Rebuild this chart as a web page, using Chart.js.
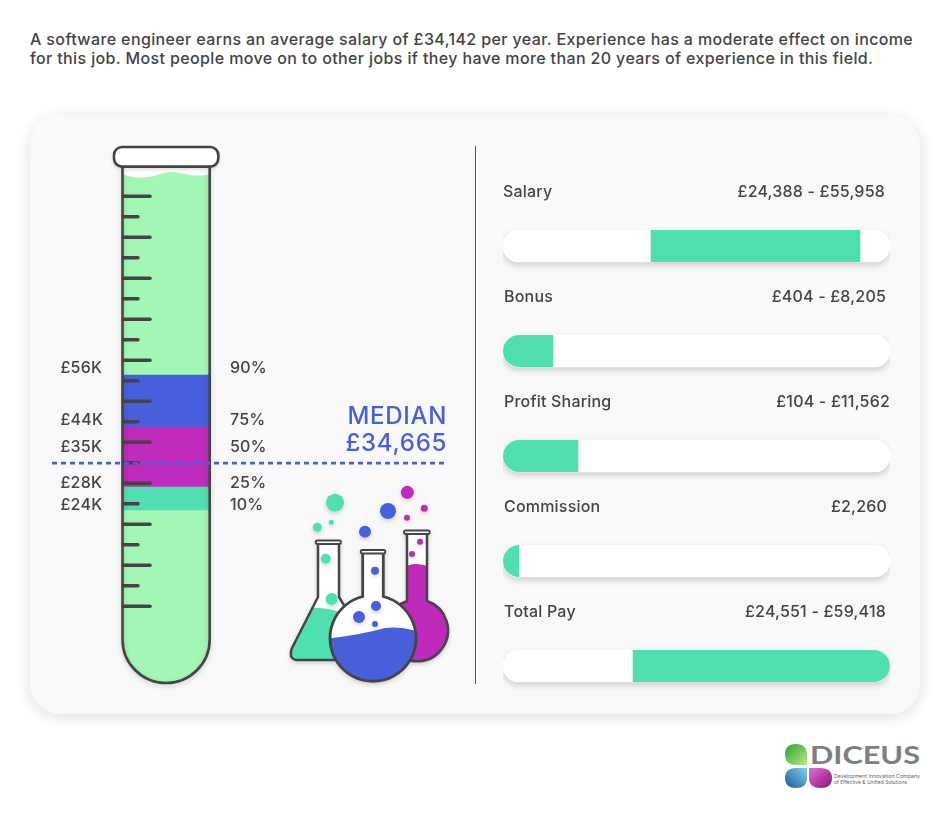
<!DOCTYPE html>
<html><head><meta charset="utf-8">
<script src="https://cdn.jsdelivr.net/npm/chart.js@4"></script>
<style>
html,body{margin:0;padding:0;background:#fff;width:950px;height:819px;overflow:hidden}
#intro{position:absolute;left:30px;top:29.5px;font:500 16px/19.6px Inter,sans-serif;letter-spacing:.375px;color:#444;white-space:nowrap}
#card{position:absolute;left:30px;top:115px;width:890px;height:599px;border-radius:30px;background:#f9f9f9;box-shadow:0 3px 16px rgba(0,0,0,.13)}
#rule{position:absolute;left:475px;top:146px;width:1px;height:538px;background:#555}
canvas{position:absolute;left:0;top:0}
svg{position:absolute;left:0;top:0}
</style></head><body>
<div id="intro">A software engineer earns an average salary of £34,142 per year. Experience has a moderate effect on income<br>for this job. Most people move on to other jobs if they have more than 20 years of experience in this field.</div>
<div id="card"></div><div id="rule"></div>
<svg width="950" height="819" viewBox="0 0 950 819" xmlns="http://www.w3.org/2000/svg">
<defs>
<filter id="sh" x="-30%" y="-30%" width="160%" height="160%"><feDropShadow dx="0" dy="2" stdDeviation="2" flood-color="#000" flood-opacity=".18"/></filter>
<clipPath id="cg"><path d="M318 542V597L292 648Q288 660 298 660H375V600H339V542Z"/></clipPath>
<clipPath id="cp"><path d="M407 532V601A31 31 0 1 0 427 601V532Z"/></clipPath>
<clipPath id="cb"><circle cx="372.7" cy="638.3" r="43"/></clipPath>
<linearGradient id="l1" x1="0" y1="0" x2="1" y2="1"><stop offset="0" stop-color="#2f9e2f"/><stop offset="1" stop-color="#b8e986"/></linearGradient>
<linearGradient id="l2" x1="1" y1="0" x2="0" y2="1"><stop offset="0" stop-color="#7fd0e6"/><stop offset="1" stop-color="#1c5a9c"/></linearGradient>
<linearGradient id="l3" x1="0" y1="0" x2="1" y2="1"><stop offset="0" stop-color="#e070e0"/><stop offset="1" stop-color="#8c1070"/></linearGradient>
</defs>
<g filter="url(#sh)">
<path d="M318 542V597L292 648Q288 660 298 660H375V600H339V542Z" fill="#fff"/>
<path d="M285 660V616Q305 602 340 612L380 640V665H285Z" fill="#50dfb0" clip-path="url(#cg)"/>
<path d="M318 542V597L292 648Q288 660 298 660H375M339 542V597L350 615" fill="none" stroke="#444" stroke-width="2.5" stroke-linejoin="round"/>
<rect x="315.7" y="540.5" width="25.3" height="3.5" rx="1.7" fill="#fff" stroke="#444" stroke-width="1.8"/>
<path d="M407 532V601A31 31 0 1 0 427 601V532Z" fill="#fff"/>
<path d="M400 569Q414 560 430 567L460 570V670H375V570Z" fill="#bf2bbd" clip-path="url(#cp)"/>
<path d="M407 532V601A31 31 0 1 0 427 601V532Z" fill="none" stroke="#444" stroke-width="2.5"/>
<rect x="404" y="530.5" width="25.7" height="3.5" rx="1.7" fill="#fff" stroke="#444" stroke-width="1.8"/>
<path d="M362.7 552V597A43 43 0 1 0 383.3 597V552Z" fill="#fff"/>
<path d="M325 639Q360 635 385 628Q400 626 420 632V690H325Z" fill="#4860dd" clip-path="url(#cb)"/>
<path d="M362.7 552V596.5A43 43 0 1 0 383.3 596.5V552" fill="none" stroke="#444" stroke-width="2.8"/>
<rect x="360.7" y="550" width="24.6" height="3.5" rx="1.7" fill="#fff" stroke="#444" stroke-width="1.8"/>
</g>
<g fill="#50dfb0" filter="url(#sh)"><circle cx="335" cy="502.7" r="9"/><circle cx="317.3" cy="527.3" r="4.5"/><circle cx="331.3" cy="522.3" r="2.5"/><circle cx="325.7" cy="558.7" r="5"/><circle cx="331.7" cy="599" r="6"/></g>
<g fill="#4860dd" filter="url(#sh)"><circle cx="388" cy="511" r="8"/><circle cx="365" cy="531.7" r="6"/><circle cx="375" cy="570.7" r="4"/><circle cx="376" cy="606" r="5"/><circle cx="359" cy="617" r="6"/><circle cx="375" cy="624" r="3"/></g>
<g fill="#bf2bbd" filter="url(#sh)"><circle cx="407.3" cy="492.3" r="6.5"/><circle cx="424.3" cy="508.3" r="3.5"/><circle cx="407" cy="517.7" r="3"/><circle cx="420" cy="541.7" r="3"/><circle cx="412" cy="554" r="3"/></g>
<path d="M807 765H796Q785 765 785 754.5Q785 744 796 744Q807 744 807 755Z" fill="url(#l1)"/>
<path d="M807 768V778Q807 788 796 788Q785 788 785 778Q785 768 796 768Z" fill="url(#l2)"/>
<path d="M809 768H820Q832 768 832 778Q832 788 820.5 788Q809 788 809 778Z" fill="url(#l3)"/>
<text x="810" y="764" font-family="Lato,sans-serif" font-size="25" font-weight="700" fill="#7d7f82" textLength="110" lengthAdjust="spacingAndGlyphs">DICEUS</text>
<text x="834" y="777.5" font-family="Inter,sans-serif" font-size="5.2" fill="#666" textLength="86" lengthAdjust="spacingAndGlyphs">Development Innovation Company</text>
<text x="834" y="784" font-family="Inter,sans-serif" font-size="5.2" fill="#666" textLength="73" lengthAdjust="spacingAndGlyphs">of Effective &amp; Unified Solutions</text>
</svg>
<canvas id="tube" width="950" height="819"></canvas>
<canvas id="bars" width="950" height="819"></canvas>
<script>
// ---------- data ----------
const tubeCategory = ["Salary"];
const bandNames = ["10–25%", "25–75%", "75–90%"];
const bandLow = [23.5, 29.1, 43.7];
const bandHigh = [29.1, 43.7, 56.4];
const salaryLabels = ["£24K", "£28K", "£35K", "£44K", "£56K"];
const percentLabels = ["10%", "25%", "50%", "75%", "90%"];
const medianValue = 34.665;
const medianLabels = ["MEDIAN", "£34,665"];
const payCategories = ["Salary", "Bonus", "Profit Sharing", "Commission", "Total Pay"];
const payRanges = ["£24,388 - £55,958", "£404 - £8,205", "£104 - £11,562", "£2,260", "£24,551 - £59,418"];
const payStart = [22.95, 0, 0, 0, 20.16];
const payEnd = [55.35, 7.75, 11.63, 2.48, 60];
const trackMax = 60;

// ---------- styles ----------
const INK = "#444", TEAL = "#50dfb0", MAG = "#bf2bbd", BLUE = "#4860dd", GREEN = "#a2f7b5";
const FONT = "500 16px Inter, sans-serif";
const labelLift = [3, 8.5, 15.8, 6, 9];

function tubePath(ctx, l, r, top, bottom) {
  const rad = (r - l) / 2;
  ctx.beginPath();
  ctx.moveTo(l, top);
  ctx.lineTo(l, bottom - rad);
  ctx.arc((l + r) / 2, bottom - rad, rad, Math.PI, 0, true);
  ctx.lineTo(r, top);
}

const tubePlugin = {
  id: "tubeDecor",
  beforeDatasetsDraw(chart) {
    const { ctx, chartArea: a } = chart;
    const l = a.left + .5, r = a.right - .3;
    ctx.save();
    tubePath(ctx, l, r, 167, 683);
    ctx.closePath();
    ctx.fillStyle = "#fff";
    ctx.fill();
    ctx.beginPath();
    ctx.moveTo(l, 174);
    ctx.bezierCurveTo(l + 12, 179, l + 24, 179, l + 36, 174.5);
    ctx.bezierCurveTo(l + 46, 171, l + 52, 171, l + 64, 174.5);
    ctx.bezierCurveTo(l + 72, 176, l + 80, 176, r, 174);
    ctx.lineTo(r, 639);
    ctx.arc((l + r) / 2, 639, (r - l) / 2, 0, Math.PI);
    ctx.closePath();
    ctx.fillStyle = GREEN;
    ctx.fill();
    ctx.restore();
  },
  afterDatasetsDraw(chart) {
    const { ctx, chartArea: a, scales: { y } } = chart;
    const l = a.left + .5, r = a.right - .3;
    ctx.save();
    // graduation marks come straight from the axis ticks
    ctx.strokeStyle = INK; ctx.lineWidth = 3.4; ctx.lineCap = "round";
    y.ticks.forEach(t => {
      const py = y.getPixelForValue(t.value);
      ctx.beginPath();
      ctx.moveTo(l + 1, py);
      ctx.lineTo(l + (t.value % 10 === 0 ? 27.5 : 15.5), py);
      ctx.stroke();
    });
    ctx.lineCap = "butt";
    ctx.shadowColor = "rgba(0,0,0,.2)"; ctx.shadowBlur = 5; ctx.shadowOffsetY = 2;
    ctx.lineWidth = 2.6;
    tubePath(ctx, l, r, 167, 683);
    ctx.stroke();
    ctx.beginPath();
    ctx.roundRect(114, 147, 104.3, 19.6, 8);
    ctx.fillStyle = "#fff"; ctx.fill();
    ctx.shadowColor = "transparent";
    ctx.stroke();
    // median line
    const my = y.getPixelForValue(medianValue);
    ctx.strokeStyle = BLUE; ctx.lineWidth = 2.6; ctx.setLineDash([5, 4]);
    ctx.beginPath(); ctx.moveTo(52, my - 1); ctx.lineTo(446, my - 1); ctx.stroke();
    ctx.setLineDash([]);
    // labels
    ctx.font = FONT; ctx.fillStyle = INK; ctx.textBaseline = "middle"; ctx.letterSpacing = "0.2px";
    salaryLabels.forEach((s, i) => {
      const v = parseFloat(s.slice(1));
      const py = y.getPixelForValue(v) - labelLift[i];
      ctx.textAlign = "left";
      ctx.fillText(s, 60.5, py);
      ctx.fillText(percentLabels[i], 230, py);
    });
    ctx.font = "500 24px Inter, sans-serif"; ctx.fillStyle = BLUE; ctx.textAlign = "right"; ctx.letterSpacing = "0.7px";
    ctx.fillText(medianLabels[0], 447, my - 47.3);
    ctx.fillText(medianLabels[1], 447, my - 20.3);
    ctx.restore();
  }
};

new Chart(document.getElementById("tube"), {
  type: "bar",
  plugins: [tubePlugin],
  data: {
    labels: tubeCategory,
    datasets: [TEAL, MAG, BLUE].map((c, i) => ({
      label: bandNames[i],
      data: [[bandLow[i], bandHigh[i]]],
      backgroundColor: c,
      grouped: false,
      barPercentage: 1,
      categoryPercentage: 1
    }))
  },
  options: {
    responsive: false, animation: false,
    layout: { padding: { left: 122, right: 740, top: 196.3, bottom: 212.7 } },
    plugins: { legend: { display: false }, tooltip: { enabled: false } },
    scales: {
      x: { display: false },
      y: { min: 0, max: 100, grid: { display: false, drawTicks: false }, border: { display: false },
           ticks: { display: false, stepSize: 5 } }
    }
  }
});

const barsPlugin = {
  id: "barsDecor",
  beforeDatasetDraw(chart, args) {
    const c = chart.ctx, { x, y } = chart.scales;
    c.save();
    if (args.index === 0) {
      c.shadowColor = "rgba(0,0,0,.18)"; c.shadowBlur = 6; c.shadowOffsetY = 3;
    } else {
      // the range fills sit inside the rounded tracks
      const left = x.getPixelForValue(0), w = x.getPixelForValue(trackMax) - left;
      c.beginPath();
      payCategories.forEach((_, i) => c.roundRect(left, y.getPixelForValue(i) - 16, w, 32, 16));
      c.clip();
    }
  },
  afterDatasetDraw(chart) {
    chart.ctx.restore();
  },
  afterDatasetsDraw(chart) {
    const { ctx, scales: { x, y } } = chart;
    const leftNudge = [0, 1, 1, 1, 1], rightNudge = [5, 4, 0, 3, 4];
    ctx.save();
    ctx.font = FONT; ctx.fillStyle = INK; ctx.textBaseline = "middle"; ctx.letterSpacing = "0.2px";
    payCategories.forEach((n, i) => {
      const py = y.getPixelForValue(i) - 54;
      ctx.textAlign = "left";
      ctx.fillText(n, x.getPixelForValue(0) + leftNudge[i], py);
      ctx.textAlign = "right";
      ctx.fillText(payRanges[i], x.getPixelForValue(trackMax) - rightNudge[i], py);
    });
    ctx.restore();
  }
};

new Chart(document.getElementById("bars"), {
  type: "bar",
  plugins: [barsPlugin],
  data: {
    labels: payCategories,
    datasets: [
      { label: "Track", data: payCategories.map(() => [0, trackMax]), backgroundColor: "#fff",
        borderSkipped: false, borderRadius: 16, barThickness: 32, grouped: false, order: 2 },
      { label: "Range", data: payStart.map((s, i) => [s, payEnd[i]]), backgroundColor: TEAL,
        borderSkipped: false, barThickness: 32, grouped: false, order: 1 }
    ]
  },
  options: {
    indexAxis: "y", responsive: false, animation: false,
    layout: { padding: { left: 503, right: 60, top: 193.5, bottom: 100.5 } },
    plugins: { legend: { display: false }, tooltip: { enabled: false } },
    scales: {
      x: { min: 0, max: trackMax, display: false },
      y: { display: false }
    }
  }
});
</script>
</body></html>
